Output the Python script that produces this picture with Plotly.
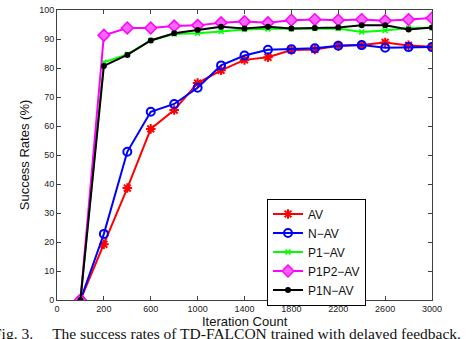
import plotly.graph_objects as go

iterations = [0, 200, 400, 600, 800, 1000, 1200, 1400, 1600, 1800, 2000, 2200, 2400, 2600, 2800, 3000]
av      = [0, 19.2, 38.6, 59.0, 65.5, 74.8, 79.2, 82.8, 83.7, 86.2, 86.4, 87.7, 87.9, 88.8, 87.8, 87.3]
n_av    = [0, 22.8, 51.1, 64.9, 67.6, 73.2, 80.9, 84.3, 86.3, 86.5, 86.8, 87.7, 87.9, 87.0, 87.2, 87.2]
p1_av   = [0, 82.0, 84.7, 89.5, 91.7, 92.0, 92.6, 93.3, 93.5, 93.5, 93.6, 93.6, 92.4, 92.9, 93.8, 93.9]
p1p2_av = [0, 91.3, 93.8, 93.8, 94.5, 94.7, 95.6, 96.0, 95.6, 96.5, 96.7, 96.5, 96.7, 96.3, 96.7, 97.2]
p1n_av  = [0, 80.7, 84.5, 89.5, 92.0, 93.1, 94.2, 93.6, 94.2, 93.6, 93.8, 94.0, 94.7, 94.7, 93.3, 94.0]

tick_vals = [-200, 200, 600, 1000, 1400, 1800, 2200, 2600, 3000]
tick_text = ["0", "200", "600", "1000", "1400", "1800", "2200", "2600", "3000"]

series = [
    ("AV", av, "#ff0000", dict(symbol="asterisk-open", size=8, line=dict(color="#ff0000", width=2))),
    ("N\u2212AV", n_av, "#0000ff", dict(symbol="circle-open", size=8, line=dict(color="#0000ff", width=2))),
    ("P1\u2212AV", p1_av, "#00ff00", dict(symbol="x-thin-open", size=5, line=dict(color="#00ff00", width=1.5))),
    ("P1P2\u2212AV", p1p2_av, "#ff00ff", dict(symbol="diamond", size=9, color="#ff66ff", line=dict(color="#ff00ff", width=1.5))),
    ("P1N\u2212AV", p1n_av, "#000000", dict(symbol="circle", size=6, color="#000000")),
]

fig = go.Figure()
for name, vals, col, mk in series:
    fig.add_trace(go.Scatter(x=iterations, y=vals, name=name, mode="lines+markers",
                             line=dict(color=col, width=2), marker=mk))

axis_common = dict(showline=True, linecolor="#404040", linewidth=1, mirror="ticks",
                   ticks="inside", ticklen=4, tickcolor="#404040", showgrid=False,
                   zeroline=False, tickfont=dict(family="Liberation Sans", size=9, color="#222"))

fig.update_layout(
    width=474, height=339,
    margin=dict(l=57, r=42, t=5, b=39),
    paper_bgcolor="white", plot_bgcolor="white",
    xaxis=dict(range=[-200, 3000], tickvals=tick_vals, ticktext=tick_text, **axis_common),
    yaxis=dict(range=[0, 100], tickvals=list(range(0, 101, 10)),
               title=dict(text="Success Rates (%)", standoff=6,
                          font=dict(family="Liberation Sans", size=13, color="#111")),
               **axis_common),
    legend=dict(x=0.56, y=0.35, xanchor="left", yanchor="top",
                bordercolor="#000", borderwidth=1, bgcolor="white",
                font=dict(family="Liberation Sans", size=12, color="#111"),
                tracegroupgap=0, itemwidth=30),
    showlegend=True,
    annotations=[
        dict(text="Iteration Count", xref="paper", yref="paper", x=0.5, y=0, yshift=-12,
             xanchor="center", yanchor="top", showarrow=False,
             font=dict(family="Liberation Sans", size=13, color="#111")),
        dict(text="Fig. 3.\u2003 The success rates of TD-FALCON trained with delayed feedback.",
             xref="paper", yref="paper", x=0, xshift=-66, y=0, yshift=-23,
             xanchor="left", yanchor="top", showarrow=False,
             font=dict(family="Liberation Serif", size=15.5, color="#111")),
    ],
)

fig.write_html("out.html")
